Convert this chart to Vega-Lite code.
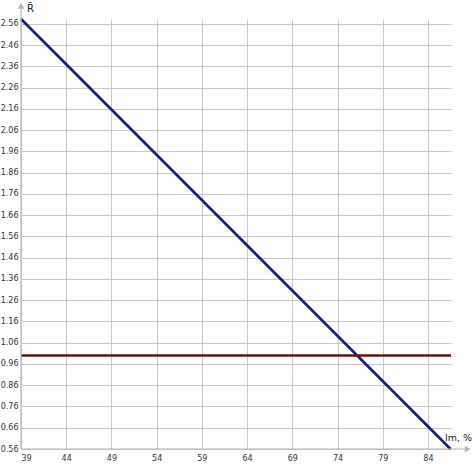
{
  "$schema": "https://vega.github.io/schema/vega-lite/v6.json",
  "width": 430,
  "height": 430,
  "autosize": {"type": "none"},
  "padding": {"left": 21, "top": 19, "right": 23, "bottom": 16},
  "background": "white",
  "datasets": {
    "rbar": [
      {"im": 39, "r": 2.5835},
      {"im": 86.5, "r": 0.56}
    ],
    "unit": [
      {"im": 39, "r": 1.0},
      {"im": 86.55, "r": 1.0}
    ],
    "xaxis": [
      {"x1": 39, "x2": 88.4, "y": 0.56}
    ],
    "yaxis": [
      {"x": 39, "y1": 0.56, "y2": 2.645}
    ]
  },
  "encoding": {
    "x": {
      "field": "im", "type": "quantitative",
      "scale": {"domain": [39, 86.55], "nice": false, "zero": false},
      "axis": {
        "values": [39, 44, 49, 54, 59, 64, 69, 74, 79, 84],
        "domain": false, "ticks": false,
        "labelOverlap": false, "labelBound": false,
        "gridColor": "#c8c8c8", "gridWidth": 1,
        "labelFont": "DejaVu Sans", "labelFontSize": 8, "labelColor": "#333",
        "labelPadding": 5,
        "title": "Im, %", "titleFont": "DejaVu Sans", "titleFontSize": 9.5,
        "titleFontWeight": "normal", "titleColor": "#222",
        "titleX": 437, "titleY": -12, "titleAlign": "center", "titleBaseline": "middle"
      }
    },
    "y": {
      "field": "r", "type": "quantitative",
      "scale": {"domain": [0.56, 2.5835], "nice": false, "zero": false},
      "axis": {
        "values": [0.56, 0.66, 0.76, 0.86, 0.96, 1.06, 1.16, 1.26, 1.36, 1.46, 1.56, 1.66, 1.76, 1.86, 1.96, 2.06, 2.16, 2.26, 2.36, 2.46, 2.56],
        "format": ".2f",
        "domain": false, "ticks": false,
        "labelOverlap": false, "labelBound": false, "labelSeparation": 0,
        "gridColor": "#c8c8c8", "gridWidth": 1,
        "labelFont": "DejaVu Sans", "labelFontSize": 8, "labelColor": "#333",
        "labelPadding": 3,
        "title": "R̄", "titleFont": "DejaVu Sans", "titleFontSize": 10,
        "titleFontWeight": "normal", "titleColor": "#222", "titleAngle": 0,
        "titleX": 9, "titleY": -11, "titleAlign": "center", "titleBaseline": "middle"
      }
    }
  },
  "layer": [
    {
      "data": {"name": "rbar"},
      "mark": {"type": "line", "color": "#0f1f80", "strokeWidth": 2.6}
    },
    {
      "data": {"name": "unit"},
      "mark": {"type": "line", "color": "#6a1010", "strokeWidth": 2.6}
    },
    {
      "data": {"name": "xaxis"},
      "mark": {"type": "rule", "color": "#b4b4b4", "strokeWidth": 1.2},
      "encoding": {
        "x": {"field": "x1", "type": "quantitative"},
        "x2": {"field": "x2"},
        "y": {"field": "y", "type": "quantitative"}
      }
    },
    {
      "data": {"name": "xaxis"},
      "mark": {"type": "point", "shape": "triangle-right", "filled": true, "color": "#b4b4b4", "size": 45, "opacity": 1},
      "encoding": {
        "x": {"field": "x2", "type": "quantitative"},
        "y": {"field": "y", "type": "quantitative"}
      }
    },
    {
      "data": {"name": "yaxis"},
      "mark": {"type": "rule", "color": "#b4b4b4", "strokeWidth": 1.2},
      "encoding": {
        "x": {"field": "x", "type": "quantitative"},
        "y": {"field": "y1", "type": "quantitative"},
        "y2": {"field": "y2"}
      }
    },
    {
      "data": {"name": "yaxis"},
      "mark": {"type": "point", "shape": "triangle-up", "filled": true, "color": "#b4b4b4", "size": 45, "opacity": 1},
      "encoding": {
        "x": {"field": "x", "type": "quantitative"},
        "y": {"field": "y2", "type": "quantitative"}
      }
    }
  ],
  "config": {
    "view": {"stroke": null},
    "axis": {"labelOverlap": false}
  }
}
